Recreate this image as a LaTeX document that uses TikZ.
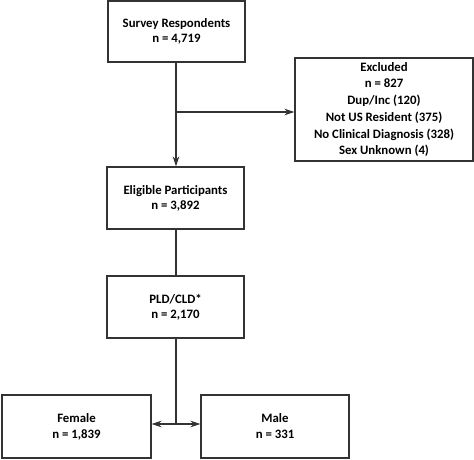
\documentclass[tikz,border=0pt]{standalone}
\usepackage{fontspec}
\setmainfont{Carlito}
\usetikzlibrary{arrows.meta,calc}
\begin{document}
\begin{tikzpicture}[x=1pt,y=-1pt,
  box/.style={draw=black!80,line width=1.1pt,fill=white,align=center,
    font=\bfseries\fontsize{12.8}{15}\selectfont,inner sep=0pt},
  conn/.style={draw=black!80,line width=1.1pt},
  tip/.style={-{Stealth[length=10pt,width=6.5pt]}}]
\useasboundingbox (0,0) rectangle (474,460);
\node[box,minimum width=137pt,minimum height=61pt] (sur) at (176.5,31.5) {Survey Respondents\\n = 4,719};
\node[box,minimum width=178pt,minimum height=103pt,font=\bfseries\fontsize{12.8}{16.7}\selectfont] (exc) at (384,109.5) {Excluded\\n = 827\\Dup/Inc (120)\\Not US Resident (375)\\No Clinical Diagnosis (328)\\Sex Unknown (4)};
\node[box,minimum width=137pt,minimum height=62pt] (eli) at (175.5,198) {Eligible Participants\\n = 3,892};
\node[box,minimum width=137pt,minimum height=62pt] (pld) at (175.5,307) {PLD/CLD*\\n = 2,170};
\node[box,minimum width=149pt,minimum height=63pt,font=\bfseries\fontsize{12.8}{16}\selectfont] (fem) at (76.5,426.5) {Female\\n = 1,839};
\node[box,minimum width=148pt,minimum height=63pt,font=\bfseries\fontsize{12.8}{16}\selectfont] (mal) at (275,426.5) {Male\\n = 331};
\coordinate (j1) at (176,112);
\coordinate (j2) at (176,424);
\draw[conn,tip] (sur.south -| j1) -- (eli.north -| j1);
\draw[conn,tip] (j1) -- (j1 -| exc.west);
\draw[conn] (eli.south -| j1) -- (pld.north -| j1);
\draw[conn] (pld.south -| j2) -- (j2);
\draw[conn,tip] (j2) -- (j2 -| fem.east);
\draw[conn,tip] (j2) -- (j2 -| mal.west);
\end{tikzpicture}
\end{document}
